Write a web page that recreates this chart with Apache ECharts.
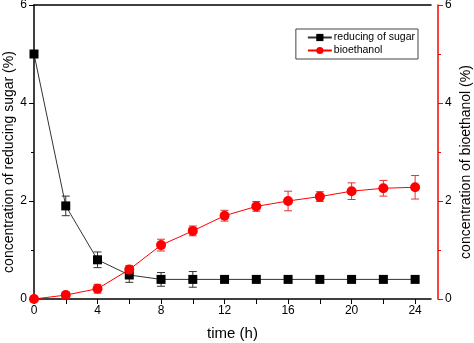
<!DOCTYPE html>
<html><head><meta charset="utf-8">
<script src="https://cdn.jsdelivr.net/npm/echarts@6/dist/echarts.min.js"></script>
<style>html,body{margin:0;padding:0;background:#fff}#c{width:474px;height:343px}</style>
</head><body><div id="c"></div>
<script>
const time = [0,2,4,6,8,10,12,14,16,18,20,22,24];
const sugar = [5.0,1.9,0.8,0.49,0.4,0.4,0.4,0.4,0.4,0.4,0.4,0.4,0.4];
const sugarErr = [0,0.2,0.16,0.15,0.14,0.16,0.05,0.05,0.05,0.05,0.05,0.05,0.05];
const ethanol = [0,0.08,0.21,0.6,1.1,1.39,1.7,1.89,2.0,2.09,2.2,2.26,2.28];
const ethanolErr = [0,0.06,0.09,0.08,0.12,0.1,0.11,0.1,0.2,0.1,0.17,0.16,0.24];
const xTicks = [0,2,4,6,8,10,12,14,16,18,20,22,24];
const xLabels = [0,4,8,12,16,20,24];

const F = 'Liberation Sans, Arial, sans-serif';
function errSeries(vals, errs, color, yIdx){
  return {
    type:'custom', yAxisIndex:yIdx, z:1, silent:true,
    data: time.map((t,i)=>[t, vals[i]-errs[i], vals[i]+errs[i]]),
    renderItem:(params, api)=>{
      const x = api.value(0);
      const lo = api.coord([x, api.value(1)]);
      const hi = api.coord([x, api.value(2)]);
      const w = 4;
      const st = {stroke:color, lineWidth:1};
      return {type:'group', children:[
        {type:'line', shape:{x1:lo[0],y1:lo[1],x2:hi[0],y2:hi[1]}, style:st},
        {type:'line', shape:{x1:lo[0]-w,y1:lo[1],x2:lo[0]+w,y2:lo[1]}, style:st},
        {type:'line', shape:{x1:hi[0]-w,y1:hi[1],x2:hi[0]+w,y2:hi[1]}, style:st}
      ]};
    }
  };
}
const chart = echarts.init(document.getElementById('c'), null, {renderer:'canvas'});
chart.setOption({
  animation:false,
  textStyle:{fontFamily:F},
  grid:{left:34, right:43, top:5, bottom:44, containLabel:false, outerBoundsMode:'none'},
  legend:{
    right:56, top:29, orient:'vertical', itemGap:2, itemWidth:24, itemHeight:9,
    padding:[3,3,3,11], borderColor:'#444', borderWidth:1, borderRadius:0,
    textStyle:{fontFamily:F, fontSize:10.5, color:'#000', padding:[0,0,0,-3]},
    data:['reducing of sugar','bioethanol']
  },
  xAxis:[{
    type:'value', min:0, max:25, position:'bottom',
    name:'time (h)', nameLocation:'middle', nameGap:27, nameMoveOverlap:false,
    nameTextStyle:{fontFamily:F, fontSize:15, color:'#000'},
    axisLine:{onZero:false, lineStyle:{color:'#000', width:1.5}},
    axisTick:{show:true, inside:false, length:5, customValues:xTicks, lineStyle:{color:'#000'}},
    axisLabel:{customValues:xLabels, color:'#000', fontSize:12, margin:6},
    splitLine:{show:false}
  },{
    type:'value', min:0, max:25, position:'top',
    axisLine:{show:true, onZero:false, lineStyle:{color:'#000', width:1.5}},
    axisTick:{show:false}, axisLabel:{show:false}, splitLine:{show:false}
  }],
  yAxis:[{
    type:'value', min:0, max:6, interval:2, position:'left',
    name:'concentration of reducing sugar (%)', nameLocation:'middle', nameGap:18, nameMoveOverlap:false,
    nameTextStyle:{fontFamily:F, fontSize:14, color:'#000', padding:[0,20,0,0]},
    axisLine:{show:true, onZero:false, lineStyle:{color:'#000', width:1.5}},
    axisTick:{show:true, inside:false, length:5, lineStyle:{color:'#000'}},
    minorTick:{show:true, splitNumber:2, length:3, lineStyle:{color:'#000'}},
    axisLabel:{color:'#000', fontSize:12, margin:7},
    splitLine:{show:false}
  },{
    type:'value', min:0, max:6, interval:2, position:'right', offset:7,
    name:'concentration of bioethanol (%)', nameLocation:'middle', nameGap:21, nameMoveOverlap:false,
    nameRotate:90,
    nameTextStyle:{fontFamily:F, fontSize:14, color:'#000', padding:[0,20,0,0]},
    axisLine:{show:true, onZero:false, lineStyle:{color:'#ff0000', width:1.5}},
    axisTick:{show:true, inside:false, length:5, lineStyle:{color:'#ff0000'}},
    minorTick:{show:true, splitNumber:2, length:3, lineStyle:{color:'#ff0000'}},
    axisLabel:{color:'#000', fontSize:12, margin:7},
    splitLine:{show:false}
  }],
  series:[
    errSeries(sugar, sugarErr, '#333', 0),
    errSeries(ethanol, ethanolErr, '#e83030', 1),
    {
      name:'reducing of sugar', type:'line', yAxisIndex:0, z:3,
      data: time.map((t,i)=>[t, sugar[i]]),
      symbol:'rect', symbolSize:9,
      lineStyle:{color:'#333', width:1},
      itemStyle:{color:'#000'}
    },{
      name:'bioethanol', type:'line', yAxisIndex:1, z:3,
      data: time.map((t,i)=>[t, ethanol[i]]),
      symbol:'circle', symbolSize:10,
      lineStyle:{color:'#ff0000', width:1},
      itemStyle:{color:'#ff0000'}
    }
  ]
});
</script></body></html>
